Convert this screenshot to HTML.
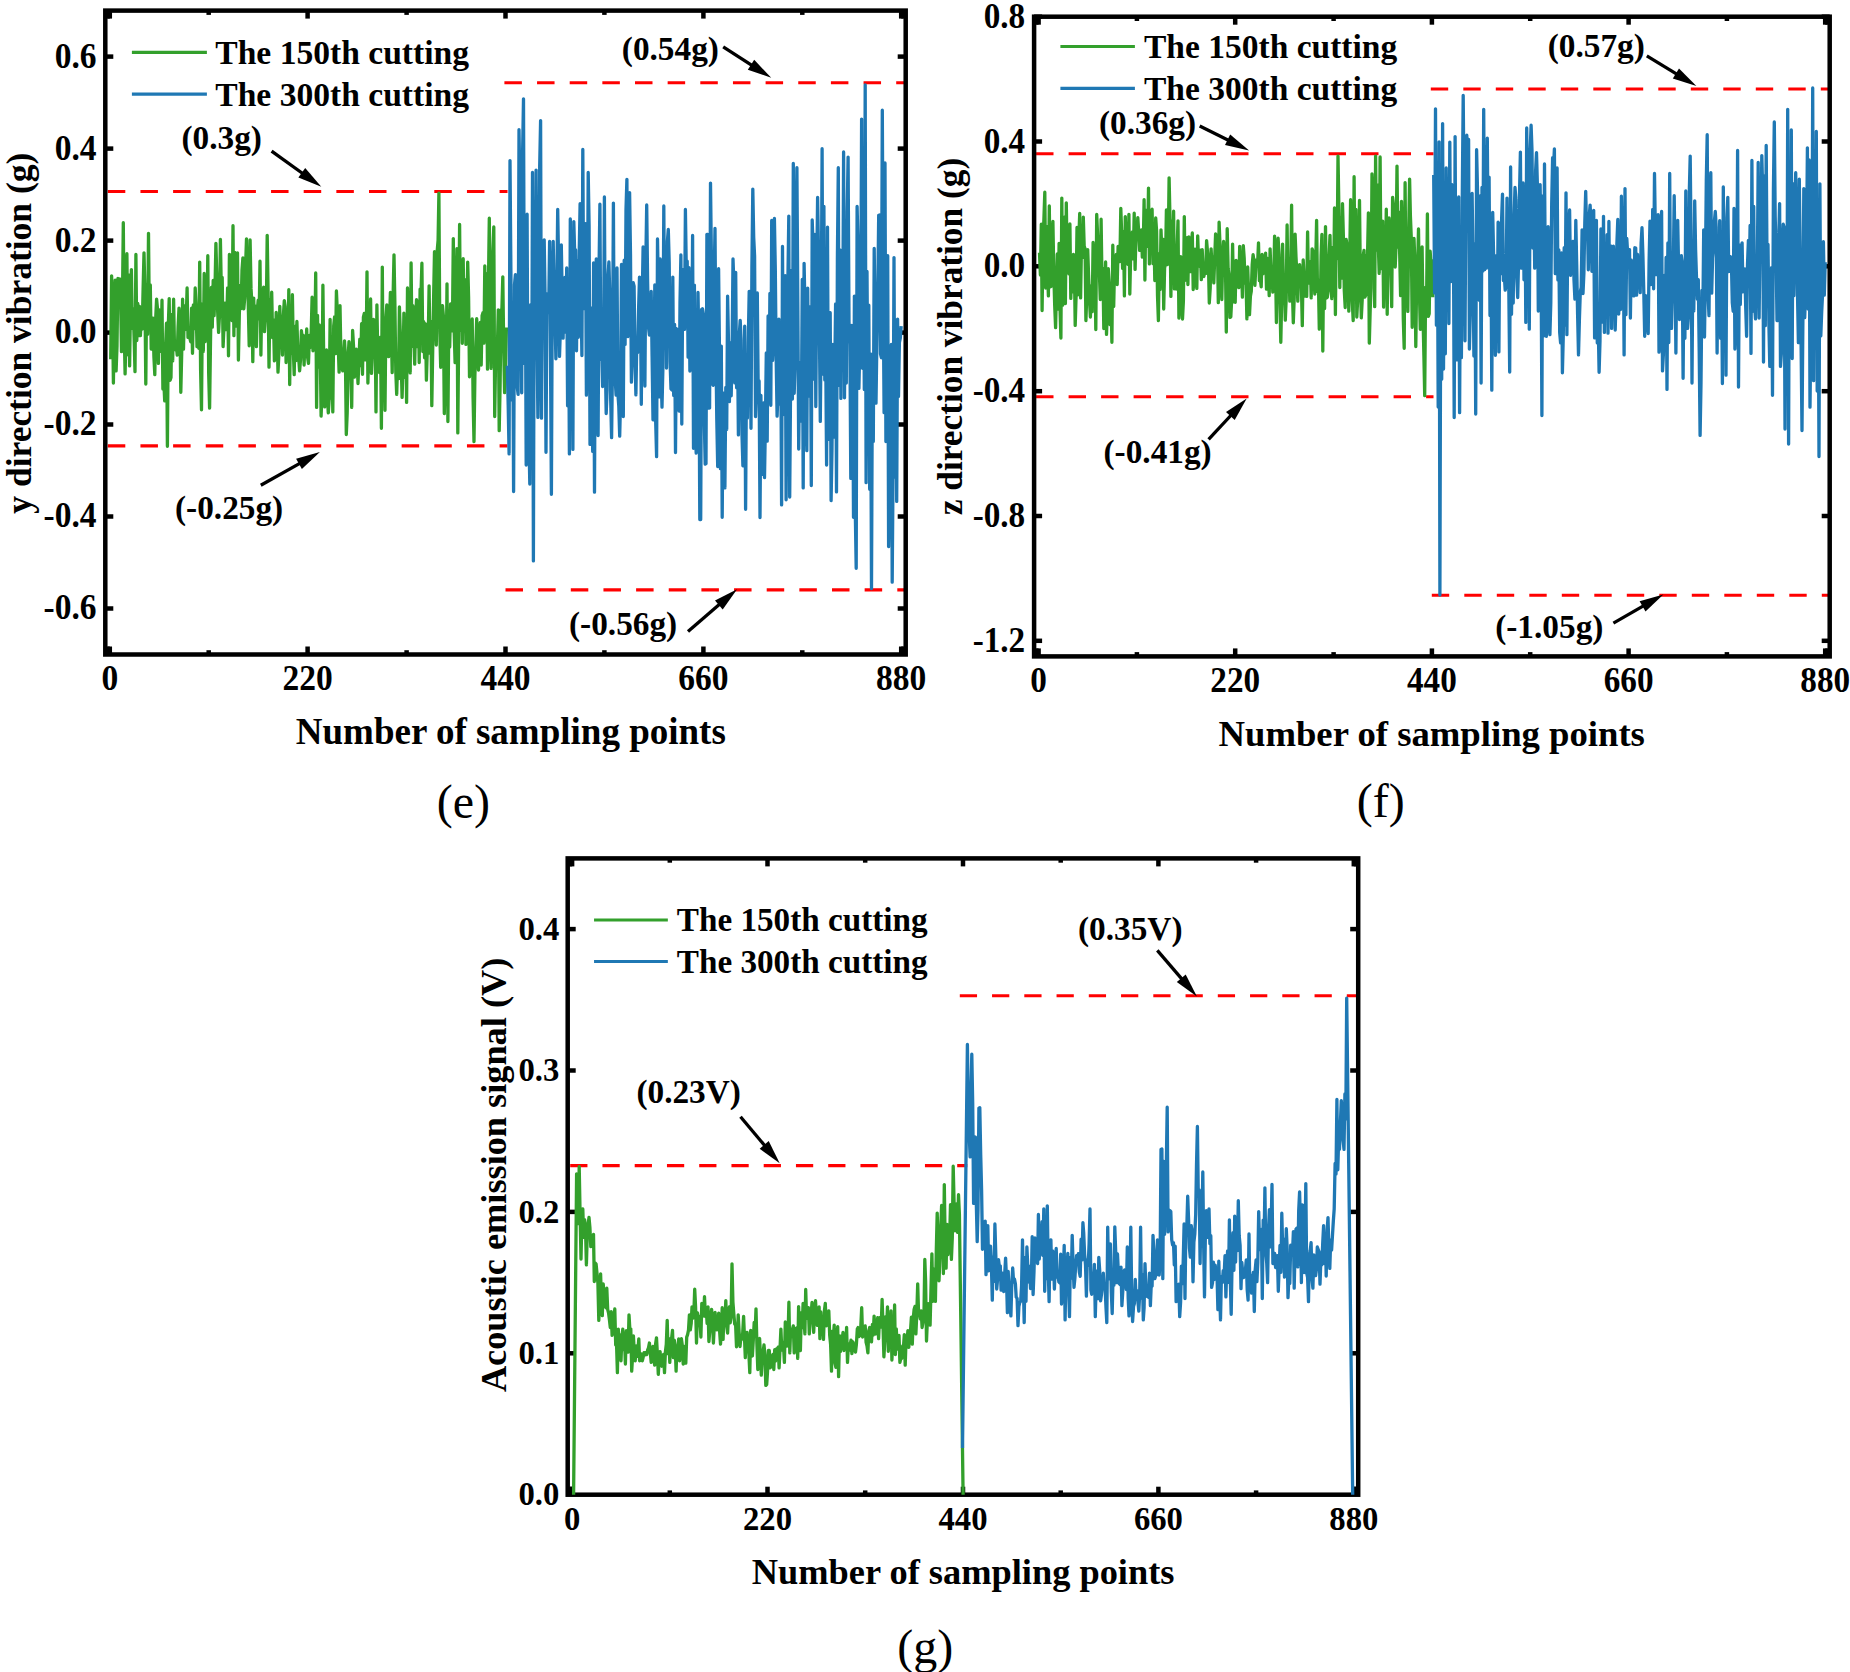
<!DOCTYPE html>
<html><head><meta charset="utf-8"><title>Vibration and acoustic emission signals</title>
<style>
html,body{margin:0;padding:0;background:#fff;}
svg{display:block;font-family:"Liberation Serif", "Times New Roman", serif;}
</style></head>
<body>
<svg width="1850" height="1672" viewBox="0 0 1850 1672">
<rect width="1850" height="1672" fill="#fff"/>
<g id="chart-e"><line x1="107.8" y1="191.5" x2="507.5" y2="191.5" stroke="#ff0000" stroke-width="3.1" stroke-dasharray="17.5 15.15"/><line x1="107.8" y1="445.9" x2="507.5" y2="445.9" stroke="#ff0000" stroke-width="3.1" stroke-dasharray="17.5 15.15"/><line x1="504.4" y1="82.8" x2="905.7" y2="82.8" stroke="#ff0000" stroke-width="3.1" stroke-dasharray="17.5 15.15"/><line x1="505.5" y1="589.9" x2="905.7" y2="589.9" stroke="#ff0000" stroke-width="3.1" stroke-dasharray="17.5 15.15"/><rect x="105.30" y="646.50" width="4.50" height="8.00" fill="#000"/><rect x="105.30" y="10.60" width="4.50" height="8.00" fill="#000"/><rect x="901.20" y="646.50" width="4.50" height="8.00" fill="#000"/><rect x="901.20" y="10.60" width="4.50" height="8.00" fill="#000"/><g stroke="#000" stroke-width="4.5" fill="none"><line x1="109.8" y1="654.5" x2="109.8" y2="646.5" /><line x1="109.8" y1="10.6" x2="109.8" y2="18.6" /><line x1="307.6" y1="654.5" x2="307.6" y2="646.5" /><line x1="307.6" y1="10.6" x2="307.6" y2="18.6" /><line x1="505.5" y1="654.5" x2="505.5" y2="646.5" /><line x1="505.5" y1="10.6" x2="505.5" y2="18.6" /><line x1="703.4" y1="654.5" x2="703.4" y2="646.5" /><line x1="703.4" y1="10.6" x2="703.4" y2="18.6" /><line x1="901.2" y1="654.5" x2="901.2" y2="646.5" /><line x1="901.2" y1="10.6" x2="901.2" y2="18.6" /><line x1="208.7" y1="654.5" x2="208.7" y2="650.2" /><line x1="208.7" y1="10.6" x2="208.7" y2="14.899999999999999" /><line x1="406.6" y1="654.5" x2="406.6" y2="650.2" /><line x1="406.6" y1="10.6" x2="406.6" y2="14.899999999999999" /><line x1="604.4" y1="654.5" x2="604.4" y2="650.2" /><line x1="604.4" y1="10.6" x2="604.4" y2="14.899999999999999" /><line x1="802.3" y1="654.5" x2="802.3" y2="650.2" /><line x1="802.3" y1="10.6" x2="802.3" y2="14.899999999999999" /><line x1="105.3" y1="608.5" x2="113.3" y2="608.5" /><line x1="905.7" y1="608.5" x2="897.7" y2="608.5" /><line x1="105.3" y1="516.5" x2="113.3" y2="516.5" /><line x1="905.7" y1="516.5" x2="897.7" y2="516.5" /><line x1="105.3" y1="424.5" x2="113.3" y2="424.5" /><line x1="905.7" y1="424.5" x2="897.7" y2="424.5" /><line x1="105.3" y1="332.6" x2="113.3" y2="332.6" /><line x1="905.7" y1="332.6" x2="897.7" y2="332.6" /><line x1="105.3" y1="240.6" x2="113.3" y2="240.6" /><line x1="905.7" y1="240.6" x2="897.7" y2="240.6" /><line x1="105.3" y1="148.6" x2="113.3" y2="148.6" /><line x1="905.7" y1="148.6" x2="897.7" y2="148.6" /><line x1="105.3" y1="56.6" x2="113.3" y2="56.6" /><line x1="905.7" y1="56.6" x2="897.7" y2="56.6" /><rect x="105.3" y="10.6" width="800.4" height="643.9"/></g><text transform="translate(109.8,689.8) scale(0.952,1)" font-size="35.175000000000004" font-weight="bold" text-anchor="middle" >0</text><text transform="translate(307.6,689.8) scale(0.952,1)" font-size="35.175000000000004" font-weight="bold" text-anchor="middle" >220</text><text transform="translate(505.5,689.8) scale(0.952,1)" font-size="35.175000000000004" font-weight="bold" text-anchor="middle" >440</text><text transform="translate(703.4,689.8) scale(0.952,1)" font-size="35.175000000000004" font-weight="bold" text-anchor="middle" >660</text><text transform="translate(901.2,689.8) scale(0.952,1)" font-size="35.175000000000004" font-weight="bold" text-anchor="middle" >880</text><text transform="translate(96.5,619.4) scale(0.952,1)" font-size="35.175000000000004" font-weight="bold" text-anchor="end" >-0.6</text><text transform="translate(96.5,527.4) scale(0.952,1)" font-size="35.175000000000004" font-weight="bold" text-anchor="end" >-0.4</text><text transform="translate(96.5,435.4) scale(0.952,1)" font-size="35.175000000000004" font-weight="bold" text-anchor="end" >-0.2</text><text transform="translate(96.5,343.4) scale(0.952,1)" font-size="35.175000000000004" font-weight="bold" text-anchor="end" >0.0</text><text transform="translate(96.5,251.5) scale(0.952,1)" font-size="35.175000000000004" font-weight="bold" text-anchor="end" >0.2</text><text transform="translate(96.5,159.5) scale(0.952,1)" font-size="35.175000000000004" font-weight="bold" text-anchor="end" >0.4</text><text transform="translate(96.5,67.5) scale(0.952,1)" font-size="35.175000000000004" font-weight="bold" text-anchor="end" >0.6</text><polyline points="110.7,359.2 111.6,275.8 112.5,301.9 113.4,383.0 114.3,314.6 115.2,280.1 116.1,370.9 117.0,346.2 117.9,278.4 118.8,298.3 119.7,278.8 120.6,296.8 121.5,351.7 122.4,305.8 123.3,222.7 124.2,330.1 125.1,373.9 126.0,330.1 126.9,253.7 127.8,354.8 128.7,274.8 129.6,365.9 130.5,303.4 131.4,269.6 132.3,328.4 133.2,308.7 134.1,337.1 135.0,371.7 135.9,254.5 136.8,340.5 137.7,303.3 138.6,335.7 139.5,306.4 140.4,335.7 141.3,317.9 142.2,329.0 143.1,289.0 144.0,252.8 144.9,291.0 145.8,384.0 146.7,284.6 147.6,334.3 148.5,233.3 149.4,325.4 150.3,285.0 151.2,349.1 152.1,325.7 153.0,318.2 153.9,356.3 154.8,374.6 155.7,318.6 156.6,299.2 157.5,308.6 158.4,363.4 159.3,309.8 160.2,332.0 161.1,351.4 162.0,300.2 162.9,389.0 163.8,380.8 164.7,400.9 165.6,346.2 166.5,323.2 167.4,446.3 168.3,326.0 169.2,298.6 170.1,380.3 171.0,377.6 171.9,314.4 172.7,360.9 173.6,299.2 174.5,347.6 175.4,349.7 176.3,344.8 177.2,355.0 178.1,326.8 179.0,308.1 179.9,323.9 180.8,392.3 181.7,353.6 182.6,299.2 183.5,349.2 184.4,306.0 185.3,329.7 186.2,320.3 187.1,288.0 188.0,337.4 188.9,336.0 189.8,338.2 190.7,341.7 191.6,308.1 192.5,353.3 193.4,304.8 194.3,328.6 195.2,288.0 196.1,306.5 197.0,346.6 197.9,341.0 198.8,348.4 199.7,262.1 200.6,370.1 201.5,409.8 202.4,303.8 203.3,351.4 204.2,273.4 205.1,341.6 206.0,315.7 206.9,324.6 207.8,255.7 208.7,374.2 209.6,408.1 210.5,342.1 211.4,287.3 212.3,327.2 213.2,280.5 214.1,315.6 215.0,289.1 215.9,243.3 216.8,277.6 217.7,312.2 218.6,332.4 219.5,315.3 220.4,239.4 221.3,289.2 222.2,277.4 223.1,346.6 224.0,326.7 224.9,303.1 225.8,329.7 226.7,323.0 227.6,287.9 228.5,355.8 229.4,254.5 230.3,292.7 231.2,254.9 232.1,320.7 233.0,225.7 233.9,335.7 234.8,252.4 235.7,280.1 236.6,326.0 237.5,252.8 238.4,360.0 239.3,315.2 240.2,285.5 241.1,308.5 242.0,270.0 242.9,257.9 243.8,308.9 244.7,298.0 245.6,265.7 246.5,238.9 247.4,270.7 248.3,306.2 249.2,345.8 250.1,240.0 251.0,288.4 251.9,302.8 252.8,361.7 253.7,298.1 254.6,334.6 255.5,306.2 256.4,346.6 257.3,310.1 258.2,300.1 259.1,318.9 260.0,261.2 260.9,355.0 261.8,295.7 262.7,330.4 263.6,287.2 264.5,331.6 265.4,317.1 266.3,311.6 267.2,235.3 268.1,292.5 269.0,367.2 269.9,299.7 270.8,335.8 271.7,292.2 272.6,337.6 273.5,320.0 274.4,360.9 275.3,352.7 276.2,312.3 277.1,331.6 278.0,372.2 278.9,353.4 279.8,306.4 280.7,335.6 281.6,324.3 282.5,355.0 283.4,315.3 284.3,300.6 285.2,306.4 286.1,362.5 287.0,311.8 287.9,357.4 288.8,289.7 289.7,384.6 290.6,314.0 291.5,353.3 292.4,294.7 293.3,349.6 294.2,374.6 295.1,326.5 296.0,360.5 296.9,321.5 297.8,350.8 298.7,358.0 299.6,370.9 300.5,360.1 301.4,330.7 302.3,338.9 303.2,335.4 304.1,365.0 305.0,337.0 305.8,351.4 306.7,329.0 307.6,357.3 308.5,363.4 309.4,335.3 310.3,347.5 311.2,332.0 312.1,297.2 313.0,350.8 313.9,319.1 314.8,339.9 315.7,272.9 316.6,407.4 317.5,315.4 318.4,367.0 319.3,324.9 320.2,345.5 321.1,416.1 322.0,391.9 322.9,285.2 323.8,368.2 324.7,406.9 325.6,394.4 326.5,350.0 327.4,397.2 328.3,412.8 329.2,399.1 330.1,319.3 331.0,398.2 331.9,351.1 332.8,411.9 333.7,325.9 334.6,317.0 335.5,353.7 336.4,290.9 337.3,311.1 338.2,343.4 339.1,372.2 340.0,305.6 340.9,355.2 341.8,367.6 342.7,370.8 343.6,355.9 344.5,340.8 345.4,356.7 346.3,434.5 347.2,413.0 348.1,357.8 349.0,341.6 349.9,350.9 350.8,368.4 351.7,407.4 352.6,330.4 353.5,345.6 354.4,377.2 355.3,361.2 356.2,349.1 357.1,359.2 358.0,383.5 358.9,360.4 359.8,339.1 360.7,365.5 361.6,323.7 362.5,374.3 363.4,317.1 364.3,313.4 365.2,359.9 366.1,354.2 367.0,271.8 367.9,383.0 368.8,347.3 369.7,364.9 370.6,298.9 371.5,373.4 372.4,353.0 373.3,319.3 374.2,320.6 375.1,320.8 376.0,411.9 376.9,304.8 377.8,357.6 378.7,367.2 379.6,372.7 380.5,337.2 381.4,428.3 382.3,267.1 383.2,387.2 384.1,353.3 385.0,410.3 385.9,318.2 386.8,304.8 387.7,329.9 388.6,356.7 389.5,322.2 390.4,292.5 391.3,328.5 392.2,372.6 393.1,296.0 394.0,254.9 394.9,304.5 395.8,371.7 396.7,394.4 397.6,361.3 398.5,378.7 399.4,306.9 400.3,333.1 401.2,364.0 402.1,397.4 403.0,364.9 403.9,313.1 404.8,377.3 405.7,324.1 406.6,402.4 407.5,288.0 408.4,348.6 409.3,336.7 410.2,372.9 411.1,262.9 412.0,346.4 412.9,305.7 413.8,338.0 414.7,364.2 415.6,322.3 416.5,299.7 417.4,346.7 418.3,301.5 419.2,362.5 420.1,289.1 421.0,293.7 421.9,263.2 422.8,351.5 423.7,321.7 424.6,357.8 425.5,324.0 426.4,380.1 427.3,349.4 428.2,341.6 429.1,285.8 430.0,353.2 430.9,321.6 431.8,405.7 432.7,350.7 433.6,298.7 434.5,251.7 435.4,306.9 436.3,345.0 437.2,250.8 438.1,240.1 438.9,193.1 439.8,331.7 440.7,367.3 441.6,313.9 442.5,305.6 443.4,316.0 444.3,413.6 445.2,372.2 446.1,374.5 447.0,283.8 447.9,421.5 448.8,324.3 449.7,347.0 450.6,303.9 451.5,328.8 452.4,330.7 453.3,238.6 454.2,331.8 455.1,362.6 456.0,309.5 456.9,248.7 457.8,432.9 458.7,333.8 459.6,224.4 460.5,330.4 461.4,268.5 462.3,343.3 463.2,258.7 464.1,329.5 465.0,279.6 465.9,344.4 466.8,319.2 467.7,262.1 468.6,297.3 469.5,376.8 470.4,338.1 471.3,366.6 472.2,319.0 473.1,398.6 474.0,441.6 474.9,375.5 475.8,347.7 476.7,318.7 477.6,339.0 478.5,370.0 479.4,343.6 480.3,322.3 481.2,365.0 482.1,315.8 483.0,312.6 483.9,343.2 484.8,265.9 485.7,335.1 486.6,273.9 487.5,369.2 488.4,287.6 489.3,218.2 490.2,332.9 491.1,368.4 492.0,257.1 492.9,250.5 493.8,226.9 494.7,416.5 495.6,359.4 496.5,367.7 497.4,346.7 498.3,309.8 499.2,430.7 500.1,385.5 501.0,310.2 501.9,309.2 502.8,276.8 503.7,347.3 504.6,392.7 505.5,369.9 506.4,327.4" fill="none" stroke="#33a02c" stroke-width="3.3" stroke-linejoin="round" stroke-linecap="butt"/><polyline points="507.3,365.7 508.2,405.2 509.1,453.9 510.0,160.6 510.9,271.1 511.8,400.1 512.7,311.0 513.6,491.6 514.5,285.0 515.4,274.7 516.3,277.9 517.2,386.6 518.1,394.4 519.0,129.7 519.9,188.1 520.8,293.5 521.7,392.8 522.6,153.1 523.5,98.8 524.4,363.4 525.3,267.2 526.2,465.0 527.1,214.2 528.0,431.6 528.9,436.3 529.8,484.0 530.7,304.7 531.6,431.7 532.5,172.5 533.4,560.9 534.3,224.3 535.2,294.2 536.1,170.1 537.0,336.6 537.9,417.4 538.8,351.2 539.7,165.9 540.6,120.6 541.5,418.2 542.4,285.4 543.3,250.4 544.2,239.8 545.1,299.5 546.0,452.3 546.9,294.0 547.8,312.7 548.7,311.9 549.6,241.4 550.5,358.3 551.4,494.3 552.3,285.7 553.2,241.4 554.1,294.8 555.0,317.4 555.9,358.8 556.8,288.8 557.7,209.4 558.6,262.5 559.5,356.4 560.4,329.0 561.3,244.9 562.2,296.8 563.1,338.2 564.0,289.6 564.9,277.5 565.8,332.2 566.7,268.0 567.6,405.8 568.5,291.0 569.4,453.9 570.3,218.9 571.2,286.7 572.1,286.9 572.9,449.4 573.8,221.6 574.7,253.7 575.6,249.9 576.5,350.8 577.4,260.7 578.3,337.3 579.2,252.9 580.1,203.7 581.0,294.1 581.9,355.6 582.8,149.5 583.7,308.6 584.6,241.0 585.5,223.7 586.4,395.2 587.3,349.8 588.2,172.5 589.1,225.2 590.0,444.4 590.9,395.8 591.8,308.0 592.7,451.4 593.6,262.8 594.5,492.2 595.4,291.6 596.3,258.9 597.2,305.5 598.1,435.6 599.0,272.2 599.9,204.2 600.8,359.5 601.7,344.5 602.6,386.5 603.5,368.1 604.4,197.0 605.3,362.1 606.2,413.5 607.1,389.7 608.0,276.3 608.9,262.0 609.8,295.7 610.7,400.4 611.6,437.7 612.5,362.7 613.4,203.1 614.3,376.5 615.2,379.4 616.1,395.2 617.0,268.0 617.9,393.7 618.8,406.5 619.7,436.1 620.6,397.1 621.5,264.4 622.4,275.8 623.3,416.6 624.2,260.2 625.1,344.4 626.0,209.5 626.9,179.3 627.8,336.6 628.7,291.8 629.6,192.6 630.5,254.2 631.4,382.2 632.3,354.3 633.2,282.7 634.1,286.1 635.0,357.5 635.9,394.9 636.8,341.8 637.7,352.4 638.6,308.7 639.5,277.1 640.4,297.6 641.3,404.3 642.2,299.8 643.1,247.0 644.0,325.8 644.9,386.0 645.8,263.7 646.7,205.0 647.6,280.6 648.5,327.2 649.4,335.0 650.3,334.6 651.2,291.3 652.1,356.4 653.0,419.8 653.9,373.3 654.8,285.0 655.7,422.3 656.6,456.7 657.5,239.0 658.4,290.2 659.3,396.9 660.2,258.9 661.1,373.0 662.0,407.1 662.9,367.8 663.8,205.9 664.7,337.9 665.6,277.4 666.5,368.0 667.4,241.3 668.3,229.5 669.2,262.3 670.1,362.4 671.0,388.9 671.9,389.9 672.8,277.1 673.7,395.6 674.6,324.5 675.5,452.6 676.4,328.6 677.3,394.0 678.2,329.3 679.1,411.1 680.0,302.4 680.9,254.9 681.8,424.1 682.7,280.4 683.6,269.5 684.5,329.4 685.4,209.4 686.3,270.5 687.2,261.2 688.1,357.2 689.0,267.6 689.9,371.1 690.8,294.6 691.7,364.7 692.6,235.4 693.5,448.3 694.4,285.1 695.3,429.6 696.2,453.1 697.1,391.9 698.0,292.5 698.9,347.8 699.8,519.6 700.7,519.6 701.6,309.6 702.5,308.8 703.4,314.3 704.3,420.2 705.2,464.2 706.0,463.7 706.9,234.3 707.8,234.3 708.7,408.2 709.6,407.9 710.5,183.1 711.4,258.2 712.3,383.7 713.2,385.3 714.1,281.7 715.0,228.4 715.9,349.1 716.8,420.3 717.7,466.5 718.6,268.7 719.5,352.4 720.4,468.7 721.3,346.1 722.2,517.3 723.1,393.0 724.0,461.7 724.9,487.9 725.8,387.5 726.7,429.4 727.6,296.1 728.5,341.9 729.4,401.6 730.3,343.0 731.2,395.8 732.1,350.8 733.0,258.9 733.9,284.0 734.8,382.9 735.7,272.3 736.6,387.8 737.5,339.6 738.4,434.9 739.3,334.4 740.2,320.3 741.1,339.6 742.0,434.7 742.9,465.8 743.8,440.4 744.7,326.2 745.6,509.3 746.5,369.7 747.4,418.0 748.3,340.3 749.2,291.3 750.1,296.6 751.0,428.3 751.9,266.8 752.8,189.1 753.7,237.4 754.6,256.2 755.5,416.6 756.4,389.5 757.3,292.9 758.2,389.0 759.1,381.0 760.0,517.6 760.9,395.3 761.8,474.3 762.7,434.0 763.6,402.9 764.5,477.6 765.4,423.4 766.3,353.0 767.2,441.2 768.1,315.9 769.0,400.7 769.9,293.5 770.8,405.3 771.7,220.5 772.6,360.4 773.5,341.3 774.4,218.4 775.3,269.3 776.2,360.0 777.1,416.1 778.0,391.8 778.9,319.1 779.8,404.0 780.7,337.9 781.6,504.9 782.5,246.5 783.4,414.5 784.3,311.6 785.2,275.6 786.1,499.8 787.0,395.1 787.9,280.6 788.8,216.1 789.7,497.0 790.6,383.0 791.5,270.3 792.4,399.0 793.3,163.4 794.2,393.3 795.1,363.1 796.0,221.7 796.9,167.7 797.8,301.9 798.7,449.1 799.6,362.3 800.5,421.0 801.4,405.2 802.3,279.5 803.2,487.9 804.1,263.3 805.0,310.3 805.9,408.3 806.8,450.7 807.7,288.2 808.6,396.2 809.5,330.8 810.4,306.6 811.3,485.6 812.2,220.0 813.1,248.6 814.0,379.0 814.9,234.4 815.8,406.6 816.7,273.9 817.6,197.4 818.5,250.9 819.4,331.0 820.3,421.4 821.2,325.4 822.1,148.7 823.0,374.2 823.9,206.3 824.8,380.0 825.7,352.6 826.6,465.0 827.5,227.2 828.4,439.3 829.3,321.4 830.2,312.7 831.1,500.6 832.0,448.5 832.9,344.5 833.8,437.2 834.7,374.9 835.6,304.0 836.5,491.9 837.4,257.3 838.3,167.7 839.1,385.3 840.0,249.9 840.9,398.4 841.8,262.8 842.7,333.9 843.6,151.9 844.5,397.8 845.4,264.7 846.3,383.0 847.2,212.2 848.1,157.1 849.0,322.1 849.9,344.5 850.8,478.4 851.7,325.4 852.6,339.0 853.5,517.3 854.4,296.1 855.3,512.2 856.2,568.3 857.1,206.5 858.0,243.6 858.9,388.4 859.8,345.5 860.7,331.1 861.6,119.1 862.5,368.3 863.4,211.5 864.3,389.6 865.2,84.8 866.1,482.7 867.0,271.4 867.9,408.9 868.8,305.2 869.7,489.3 870.6,354.0 871.5,588.6 872.4,363.3 873.3,441.4 874.2,248.5 875.1,329.5 876.0,403.2 876.9,339.6 877.8,291.1 878.7,215.3 879.6,215.0 880.5,353.8 881.4,357.7 882.3,110.2 883.2,290.6 884.1,412.7 885.0,163.0 885.9,441.6 886.8,277.9 887.7,255.7 888.6,546.6 889.5,491.9 890.4,385.9 891.3,344.5 892.2,582.2 893.1,464.1 894.0,257.6 894.9,477.2 895.8,320.0 896.7,501.4 897.6,319.1 898.5,396.4 899.4,342.5 900.3,338.2 901.2,326.2" fill="none" stroke="#1f78b4" stroke-width="3.3" stroke-linejoin="round" stroke-linecap="butt"/><line x1="131.9" y1="52.4" x2="206.9" y2="52.4" stroke="#33a02c" stroke-width="3.2"/><line x1="131.9" y1="94.2" x2="206.9" y2="94.2" stroke="#1f78b4" stroke-width="3.2"/><text x="215.3" y="63.9" font-size="33.6" font-weight="bold" text-anchor="start" >The 150th cutting</text><text x="215.3" y="106.0" font-size="33.6" font-weight="bold" text-anchor="start" >The 300th cutting</text><text x="181.5" y="148.6" font-size="33.3" font-weight="bold" text-anchor="start" >(0.3g)</text><line x1="271.6" y1="151.1" x2="303.4" y2="174.0" stroke="#000" stroke-width="3.3"/><polygon points="321.3,186.8 298.4,177.6 305.2,168.0" fill="#000"/><text x="621.8" y="59.7" font-size="33.3" font-weight="bold" text-anchor="start" >(0.54g)</text><line x1="723.2" y1="46.8" x2="752.7" y2="65.9" stroke="#000" stroke-width="3.3"/><polygon points="771.2,77.8 747.8,69.7 754.2,59.8" fill="#000"/><text x="175.0" y="519.2" font-size="33.3" font-weight="bold" text-anchor="start" >(-0.25g)</text><line x1="260.8" y1="485.3" x2="300.7" y2="462.9" stroke="#000" stroke-width="3.3"/><polygon points="319.9,452.1 301.9,469.0 296.1,458.7" fill="#000"/><text x="569.0" y="635.4" font-size="33.3" font-weight="bold" text-anchor="start" >(-0.56g)</text><line x1="688.0" y1="631.4" x2="720.4" y2="603.6" stroke="#000" stroke-width="3.3"/><polygon points="737.1,589.3 722.7,609.4 715.0,600.4" fill="#000"/><text x="510.8" y="744.3" font-size="37.0" font-weight="bold" text-anchor="middle" >Number of sampling points</text><text transform="translate(31.2,333.2) rotate(-90) scale(0.967,1)" font-size="36.7" font-weight="bold" text-anchor="middle">y direction vibration (g)</text><text x="463.3" y="817.5" font-size="48" font-weight="normal" text-anchor="middle" >(e)</text></g>
<g id="chart-f"><line x1="1036.1" y1="153.7" x2="1433.5" y2="153.7" stroke="#ff0000" stroke-width="3.1" stroke-dasharray="17.4 15.1"/><line x1="1036.1" y1="396.8" x2="1433.5" y2="396.8" stroke="#ff0000" stroke-width="3.1" stroke-dasharray="17.4 15.1"/><line x1="1430.8" y1="89.0" x2="1829.7" y2="89.0" stroke="#ff0000" stroke-width="3.1" stroke-dasharray="17.4 15.1"/><line x1="1431.8" y1="595.2" x2="1829.7" y2="595.2" stroke="#ff0000" stroke-width="3.1" stroke-dasharray="17.4 15.1"/><rect x="1034.10" y="648.40" width="4.47" height="8.00" fill="#000"/><rect x="1034.10" y="16.70" width="4.47" height="8.00" fill="#000"/><rect x="1825.23" y="648.40" width="4.47" height="8.00" fill="#000"/><rect x="1825.23" y="16.70" width="4.47" height="8.00" fill="#000"/><g stroke="#000" stroke-width="4.5" fill="none"><line x1="1038.6" y1="656.4" x2="1038.6" y2="648.4" /><line x1="1038.6" y1="16.7" x2="1038.6" y2="24.7" /><line x1="1235.2" y1="656.4" x2="1235.2" y2="648.4" /><line x1="1235.2" y1="16.7" x2="1235.2" y2="24.7" /><line x1="1431.9" y1="656.4" x2="1431.9" y2="648.4" /><line x1="1431.9" y1="16.7" x2="1431.9" y2="24.7" /><line x1="1628.6" y1="656.4" x2="1628.6" y2="648.4" /><line x1="1628.6" y1="16.7" x2="1628.6" y2="24.7" /><line x1="1825.2" y1="656.4" x2="1825.2" y2="648.4" /><line x1="1825.2" y1="16.7" x2="1825.2" y2="24.7" /><line x1="1136.9" y1="656.4" x2="1136.9" y2="652.1" /><line x1="1136.9" y1="16.7" x2="1136.9" y2="21.0" /><line x1="1333.6" y1="656.4" x2="1333.6" y2="652.1" /><line x1="1333.6" y1="16.7" x2="1333.6" y2="21.0" /><line x1="1530.2" y1="656.4" x2="1530.2" y2="652.1" /><line x1="1530.2" y1="16.7" x2="1530.2" y2="21.0" /><line x1="1726.9" y1="656.4" x2="1726.9" y2="652.1" /><line x1="1726.9" y1="16.7" x2="1726.9" y2="21.0" /><line x1="1034.1" y1="640.8" x2="1042.1" y2="640.8" /><line x1="1829.7" y1="640.8" x2="1821.7" y2="640.8" /><line x1="1034.1" y1="516.0" x2="1042.1" y2="516.0" /><line x1="1829.7" y1="516.0" x2="1821.7" y2="516.0" /><line x1="1034.1" y1="391.2" x2="1042.1" y2="391.2" /><line x1="1829.7" y1="391.2" x2="1821.7" y2="391.2" /><line x1="1034.1" y1="266.3" x2="1042.1" y2="266.3" /><line x1="1829.7" y1="266.3" x2="1821.7" y2="266.3" /><line x1="1034.1" y1="141.5" x2="1042.1" y2="141.5" /><line x1="1829.7" y1="141.5" x2="1821.7" y2="141.5" /><line x1="1034.1" y1="16.7" x2="1042.1" y2="16.7" /><line x1="1829.7" y1="16.7" x2="1821.7" y2="16.7" /><rect x="1034.1" y="16.7" width="795.6" height="639.7"/></g><text transform="translate(1038.6,691.7) scale(0.952,1)" font-size="34.86000000000001" font-weight="bold" text-anchor="middle" >0</text><text transform="translate(1235.2,691.7) scale(0.952,1)" font-size="34.86000000000001" font-weight="bold" text-anchor="middle" >220</text><text transform="translate(1431.9,691.7) scale(0.952,1)" font-size="34.86000000000001" font-weight="bold" text-anchor="middle" >440</text><text transform="translate(1628.6,691.7) scale(0.952,1)" font-size="34.86000000000001" font-weight="bold" text-anchor="middle" >660</text><text transform="translate(1825.2,691.7) scale(0.952,1)" font-size="34.86000000000001" font-weight="bold" text-anchor="middle" >880</text><text transform="translate(1025.2,651.9) scale(0.952,1)" font-size="34.86000000000001" font-weight="bold" text-anchor="end" >-1.2</text><text transform="translate(1025.2,527.1) scale(0.952,1)" font-size="34.86000000000001" font-weight="bold" text-anchor="end" >-0.8</text><text transform="translate(1025.2,402.3) scale(0.952,1)" font-size="34.86000000000001" font-weight="bold" text-anchor="end" >-0.4</text><text transform="translate(1025.2,277.4) scale(0.952,1)" font-size="34.86000000000001" font-weight="bold" text-anchor="end" >0.0</text><text transform="translate(1025.2,152.6) scale(0.952,1)" font-size="34.86000000000001" font-weight="bold" text-anchor="end" >0.4</text><text transform="translate(1025.2,27.8) scale(0.952,1)" font-size="34.86000000000001" font-weight="bold" text-anchor="end" >0.8</text><polyline points="1039.5,252.8 1040.4,275.0 1041.3,224.2 1042.1,310.6 1043.0,242.7 1043.9,219.2 1044.8,192.2 1045.7,288.1 1046.6,226.5 1047.5,268.3 1048.4,295.9 1049.3,206.0 1050.2,286.9 1051.1,286.3 1052.0,242.1 1052.9,221.4 1053.8,273.0 1054.7,305.5 1055.6,327.6 1056.4,289.9 1057.3,254.0 1058.2,309.2 1059.1,243.3 1060.0,307.5 1060.9,338.0 1061.8,198.1 1062.7,305.2 1063.6,280.2 1064.5,217.1 1065.4,303.5 1066.3,202.8 1067.2,266.2 1068.1,242.0 1069.0,273.9 1069.9,223.9 1070.8,298.4 1071.6,259.7 1072.5,291.9 1073.4,254.4 1074.3,260.1 1075.2,325.4 1076.1,295.6 1077.0,227.4 1077.9,294.8 1078.8,239.7 1079.7,213.5 1080.6,297.9 1081.5,242.5 1082.4,257.4 1083.3,217.1 1084.2,246.2 1085.1,248.8 1085.9,320.6 1086.8,294.1 1087.7,249.6 1088.6,275.6 1089.5,300.4 1090.4,317.0 1091.3,285.8 1092.2,311.7 1093.1,242.5 1094.0,288.2 1094.9,245.3 1095.8,329.6 1096.7,214.4 1097.6,235.1 1098.5,245.7 1099.4,273.7 1100.3,299.5 1101.1,219.2 1102.0,281.8 1102.9,268.4 1103.8,328.5 1104.7,295.4 1105.6,262.0 1106.5,334.4 1107.4,308.3 1108.3,268.6 1109.2,282.9 1110.1,324.6 1111.0,293.8 1111.9,342.3 1112.8,245.2 1113.7,306.4 1114.6,263.6 1115.4,280.1 1116.3,254.4 1117.2,284.5 1118.1,246.4 1119.0,260.7 1119.9,261.5 1120.8,208.4 1121.7,234.4 1122.6,268.4 1123.5,231.7 1124.4,295.9 1125.3,216.6 1126.2,256.7 1127.1,253.2 1128.0,264.3 1128.9,214.3 1129.8,294.0 1130.6,257.6 1131.5,257.9 1132.4,231.8 1133.3,258.9 1134.2,213.2 1135.1,269.4 1136.0,233.5 1136.9,236.9 1137.8,217.6 1138.7,232.0 1139.6,250.4 1140.5,246.1 1141.4,229.8 1142.3,257.1 1143.2,251.3 1144.1,199.7 1144.9,280.0 1145.8,211.6 1146.7,210.3 1147.6,246.4 1148.5,188.1 1149.4,263.9 1150.3,210.3 1151.2,245.3 1152.1,209.2 1153.0,263.7 1153.9,233.5 1154.8,280.5 1155.7,217.9 1156.6,231.2 1157.5,295.4 1158.4,320.6 1159.3,253.7 1160.1,289.5 1161.0,229.8 1161.9,252.5 1162.8,239.1 1163.7,309.0 1164.6,267.9 1165.5,263.9 1166.4,210.0 1167.3,264.7 1168.2,246.6 1169.1,177.8 1170.0,219.2 1170.9,296.4 1171.8,221.3 1172.7,264.2 1173.6,211.2 1174.4,288.9 1175.3,280.6 1176.2,289.0 1177.1,248.8 1178.0,220.8 1178.9,318.1 1179.8,293.0 1180.7,256.7 1181.6,300.1 1182.5,319.0 1183.4,301.0 1184.3,216.6 1185.2,280.3 1186.1,238.3 1187.0,237.7 1187.9,284.5 1188.8,236.9 1189.6,252.5 1190.5,271.6 1191.4,245.6 1192.3,233.0 1193.2,289.5 1194.1,275.4 1195.0,249.1 1195.9,274.1 1196.8,288.4 1197.7,235.8 1198.6,262.1 1199.5,266.2 1200.4,250.1 1201.3,279.7 1202.2,249.6 1203.1,271.1 1203.9,276.5 1204.8,263.5 1205.7,273.5 1206.6,240.6 1207.5,251.7 1208.4,261.6 1209.3,303.0 1210.2,288.5 1211.1,248.8 1212.0,267.0 1212.9,256.7 1213.8,282.9 1214.7,258.8 1215.6,233.8 1216.5,242.0 1217.4,242.9 1218.3,302.7 1219.1,222.2 1220.0,244.4 1220.9,281.8 1221.8,299.5 1222.7,258.3 1223.6,241.4 1224.5,248.7 1225.4,258.9 1226.3,332.0 1227.2,228.7 1228.1,268.3 1229.0,275.2 1229.9,317.4 1230.8,317.0 1231.7,298.8 1232.6,244.1 1233.4,291.9 1234.3,301.9 1235.2,302.2 1236.1,260.4 1237.0,274.0 1237.9,262.5 1238.8,287.6 1239.7,246.4 1240.6,268.7 1241.5,265.0 1242.4,297.2 1243.3,245.6 1244.2,258.2 1245.1,283.2 1246.0,279.1 1246.9,318.9 1247.7,267.0 1248.6,292.7 1249.5,314.6 1250.4,296.3 1251.3,291.1 1252.2,264.7 1253.1,254.7 1254.0,261.1 1254.9,285.3 1255.8,266.8 1256.7,259.9 1257.6,263.7 1258.5,242.9 1259.4,280.7 1260.3,278.8 1261.2,286.9 1262.1,254.4 1262.9,273.8 1263.8,272.4 1264.7,264.1 1265.6,253.1 1266.5,289.2 1267.4,258.5 1268.3,267.2 1269.2,295.6 1270.1,248.8 1271.0,274.0 1271.9,266.7 1272.8,292.2 1273.7,280.9 1274.6,236.1 1275.5,261.7 1276.4,322.5 1277.2,267.3 1278.1,238.2 1279.0,254.0 1279.9,299.4 1280.8,342.3 1281.7,298.4 1282.6,244.1 1283.5,288.8 1284.4,285.0 1285.3,320.1 1286.2,298.0 1287.1,225.0 1288.0,291.5 1288.9,260.2 1289.8,301.1 1290.7,268.9 1291.6,205.2 1292.4,290.3 1293.3,322.8 1294.2,298.2 1295.1,234.1 1296.0,257.1 1296.9,274.5 1297.8,301.1 1298.7,266.2 1299.6,264.7 1300.5,274.4 1301.4,286.0 1302.3,325.7 1303.2,259.9 1304.1,278.4 1305.0,296.2 1305.9,275.2 1306.7,296.4 1307.6,231.9 1308.5,283.2 1309.4,280.7 1310.3,261.7 1311.2,297.9 1312.1,248.8 1313.0,251.3 1313.9,271.0 1314.8,294.0 1315.7,264.8 1316.6,220.3 1317.5,291.6 1318.4,280.1 1319.3,329.2 1320.2,313.8 1321.1,255.5 1321.9,234.5 1322.8,351.0 1323.7,252.7 1324.6,308.6 1325.5,226.6 1326.4,298.0 1327.3,297.2 1328.2,289.0 1329.1,256.1 1330.0,235.3 1330.9,285.7 1331.8,298.7 1332.7,247.5 1333.6,295.3 1334.5,207.9 1335.4,314.6 1336.2,232.7 1337.1,258.8 1338.0,156.1 1338.9,209.3 1339.8,287.6 1340.7,218.2 1341.6,278.2 1342.5,203.6 1343.4,237.2 1344.3,290.6 1345.2,307.5 1346.1,239.3 1347.0,245.0 1347.9,269.1 1348.8,311.1 1349.7,259.1 1350.6,199.7 1351.4,260.2 1352.3,301.6 1353.2,320.6 1354.1,176.7 1355.0,288.2 1355.9,209.5 1356.8,317.0 1357.7,299.1 1358.6,263.1 1359.5,200.5 1360.4,283.2 1361.3,317.8 1362.2,299.9 1363.1,256.2 1364.0,250.4 1364.9,297.2 1365.7,295.4 1366.6,255.2 1367.5,257.2 1368.4,212.8 1369.3,343.1 1370.2,309.5 1371.1,287.9 1372.0,173.8 1372.9,194.3 1373.8,201.0 1374.7,306.7 1375.6,156.1 1376.5,250.2 1377.4,185.0 1378.3,244.7 1379.2,273.4 1380.1,156.9 1380.9,258.1 1381.8,268.6 1382.7,221.1 1383.6,307.1 1384.5,261.0 1385.4,271.7 1386.3,209.2 1387.2,314.3 1388.1,242.3 1389.0,217.9 1389.9,234.1 1390.8,265.9 1391.7,306.7 1392.6,197.3 1393.5,205.4 1394.4,246.8 1395.2,267.0 1396.1,244.7 1397.0,166.1 1397.9,247.0 1398.8,212.2 1399.7,254.5 1400.6,295.6 1401.5,201.3 1402.4,235.4 1403.3,319.3 1404.2,348.3 1405.1,182.7 1406.0,295.6 1406.9,254.8 1407.8,311.4 1408.7,230.9 1409.6,179.1 1410.4,215.9 1411.3,238.6 1412.2,327.3 1413.1,270.2 1414.0,238.5 1414.9,262.1 1415.8,346.6 1416.7,275.3 1417.6,270.5 1418.5,229.0 1419.4,292.1 1420.3,329.3 1421.2,317.2 1422.1,246.8 1423.0,314.8 1423.9,355.6 1424.7,395.7 1425.6,287.4 1426.5,311.7 1427.4,213.9 1428.3,316.4 1429.2,313.8 1430.1,251.1 1431.0,262.1 1431.9,260.7 1432.8,297.2" fill="none" stroke="#33a02c" stroke-width="3.3" stroke-linejoin="round" stroke-linecap="butt"/><polyline points="1433.7,175.0 1434.6,292.9 1435.5,108.8 1436.4,325.2 1437.3,200.8 1438.2,407.1 1439.1,141.8 1439.9,595.1 1440.8,253.9 1441.7,379.2 1442.6,123.6 1443.5,369.1 1444.4,238.3 1445.3,353.8 1446.2,168.0 1447.1,248.9 1448.0,190.0 1448.9,323.6 1449.8,142.1 1450.7,281.7 1451.6,184.5 1452.5,185.9 1453.4,225.6 1454.2,417.5 1455.1,136.6 1456.0,324.3 1456.9,359.8 1457.8,231.0 1458.7,197.0 1459.6,412.7 1460.5,238.7 1461.4,357.7 1462.3,194.5 1463.2,95.5 1464.1,200.4 1465.0,340.8 1465.9,187.0 1466.8,135.2 1467.7,176.7 1468.6,139.4 1469.4,349.0 1470.3,311.4 1471.2,203.7 1472.1,193.3 1473.0,259.7 1473.9,356.0 1474.8,243.6 1475.7,414.0 1476.6,149.7 1477.5,189.4 1478.4,242.3 1479.3,300.3 1480.2,196.0 1481.1,383.1 1482.0,187.4 1482.9,271.1 1483.7,109.3 1484.6,269.7 1485.5,146.6 1486.4,268.2 1487.3,138.2 1488.2,248.8 1489.1,177.2 1490.0,315.5 1490.9,241.2 1491.8,390.2 1492.7,212.3 1493.6,254.9 1494.5,269.7 1495.4,355.3 1496.3,255.7 1497.2,333.8 1498.1,222.2 1498.9,351.9 1499.8,224.0 1500.7,273.7 1501.6,219.5 1502.5,194.1 1503.4,280.5 1504.3,275.6 1505.2,290.2 1506.1,285.5 1507.0,198.1 1507.9,271.1 1508.8,288.1 1509.7,372.0 1510.6,166.9 1511.5,314.3 1512.4,249.5 1513.2,303.0 1514.1,217.0 1515.0,187.5 1515.9,199.2 1516.8,278.4 1517.7,297.5 1518.6,260.3 1519.5,193.7 1520.4,152.1 1521.3,268.2 1522.2,236.3 1523.1,183.0 1524.0,279.8 1524.9,187.5 1525.8,322.4 1526.7,128.0 1527.6,205.6 1528.4,163.6 1529.3,329.2 1530.2,150.2 1531.1,125.2 1532.0,150.4 1532.9,248.1 1533.8,190.3 1534.7,268.2 1535.6,171.0 1536.5,152.6 1537.4,185.0 1538.3,311.0 1539.2,199.7 1540.1,184.6 1541.0,246.6 1541.9,415.6 1542.7,195.8 1543.6,335.9 1544.5,164.0 1545.4,292.1 1546.3,336.3 1547.2,323.3 1548.1,226.6 1549.0,296.1 1549.9,334.7 1550.8,302.8 1551.7,203.8 1552.6,157.7 1553.5,168.4 1554.4,148.9 1555.3,273.7 1556.2,259.1 1557.1,168.0 1557.9,280.0 1558.8,249.8 1559.7,332.8 1560.6,342.8 1561.5,252.8 1562.4,372.8 1563.3,334.8 1564.2,247.7 1565.1,325.0 1566.0,192.8 1566.9,334.7 1567.8,229.7 1568.7,227.7 1569.6,210.0 1570.5,275.3 1571.4,261.0 1572.2,248.7 1573.1,241.3 1574.0,279.9 1574.9,299.1 1575.8,220.3 1576.7,264.4 1577.6,314.3 1578.5,354.9 1579.4,319.6 1580.3,291.9 1581.2,287.3 1582.1,229.8 1583.0,293.5 1583.9,273.3 1584.8,222.7 1585.7,191.3 1586.6,231.6 1587.4,218.0 1588.3,269.8 1589.2,216.1 1590.1,205.2 1591.0,221.8 1591.9,271.3 1592.8,242.5 1593.7,210.3 1594.6,337.9 1595.5,305.7 1596.4,220.3 1597.3,342.9 1598.2,321.1 1599.1,372.3 1600.0,341.2 1600.9,229.0 1601.7,302.2 1602.6,322.2 1603.5,216.3 1604.4,332.4 1605.3,246.9 1606.2,311.6 1607.1,234.7 1608.0,333.2 1608.9,221.5 1609.8,311.0 1610.7,246.0 1611.6,328.4 1612.5,261.4 1613.4,246.1 1614.3,269.6 1615.2,330.0 1616.1,297.9 1616.9,243.2 1617.8,219.5 1618.7,314.1 1619.6,234.9 1620.5,309.6 1621.4,196.2 1622.3,247.4 1623.2,218.7 1624.1,354.9 1625.0,188.6 1625.9,314.7 1626.8,238.5 1627.7,254.4 1628.6,249.4 1629.5,249.6 1630.4,318.1 1631.2,259.8 1632.1,274.0 1633.0,295.7 1633.9,295.9 1634.8,247.7 1635.7,248.0 1636.6,295.1 1637.5,254.3 1638.4,280.1 1639.3,269.5 1640.2,292.7 1641.1,243.4 1642.0,227.7 1642.9,254.8 1643.8,292.3 1644.7,336.3 1645.5,295.6 1646.4,296.1 1647.3,312.8 1648.2,333.5 1649.1,261.1 1650.0,221.1 1650.9,284.6 1651.8,278.5 1652.7,209.3 1653.6,288.8 1654.5,173.5 1655.4,233.7 1656.3,274.6 1657.2,235.9 1658.1,214.7 1659.0,352.2 1659.9,337.7 1660.7,233.5 1661.6,211.5 1662.5,370.9 1663.4,354.2 1664.3,275.5 1665.2,347.3 1666.1,257.5 1667.0,389.4 1667.9,243.0 1668.8,342.6 1669.7,173.5 1670.6,316.4 1671.5,328.4 1672.4,290.2 1673.3,269.2 1674.2,195.7 1675.0,257.8 1675.9,353.0 1676.8,254.6 1677.7,220.3 1678.6,267.7 1679.5,319.5 1680.4,292.9 1681.3,255.6 1682.2,261.9 1683.1,378.3 1684.0,265.1 1684.9,338.3 1685.8,190.9 1686.7,293.2 1687.6,328.4 1688.5,315.4 1689.4,188.1 1690.2,156.1 1691.1,241.6 1692.0,383.1 1692.9,253.3 1693.8,310.9 1694.7,200.8 1695.6,249.8 1696.5,277.7 1697.4,299.2 1698.3,279.7 1699.2,350.8 1700.1,435.4 1701.0,383.2 1701.9,290.5 1702.8,321.5 1703.7,229.8 1704.5,337.1 1705.4,270.8 1706.3,180.6 1707.2,134.7 1708.1,296.5 1709.0,315.7 1709.9,213.0 1710.8,172.7 1711.7,293.1 1712.6,257.8 1713.5,249.0 1714.4,220.8 1715.3,211.5 1716.2,227.4 1717.1,353.0 1718.0,260.0 1718.9,303.5 1719.7,220.7 1720.6,338.3 1721.5,266.1 1722.4,383.6 1723.3,187.0 1724.2,306.5 1725.1,229.1 1726.0,375.2 1726.9,217.9 1727.8,197.3 1728.7,271.5 1729.6,271.3 1730.5,256.7 1731.4,262.3 1732.3,302.9 1733.2,311.4 1734.0,208.4 1734.9,349.0 1735.8,323.2 1736.7,317.0 1737.6,150.5 1738.5,387.0 1739.4,245.0 1740.3,304.5 1741.2,258.6 1742.1,242.9 1743.0,291.9 1743.9,281.5 1744.8,268.8 1745.7,306.9 1746.6,336.3 1747.5,264.4 1748.4,240.4 1749.2,277.7 1750.1,225.5 1751.0,353.4 1751.9,160.5 1752.8,311.3 1753.7,206.4 1754.6,304.2 1755.5,318.9 1756.4,273.7 1757.3,272.3 1758.2,162.4 1759.1,318.1 1760.0,239.2 1760.9,244.1 1761.8,155.6 1762.7,190.8 1763.5,362.0 1764.4,175.9 1765.3,325.7 1766.2,145.5 1767.1,278.1 1768.0,244.4 1768.9,323.8 1769.8,366.4 1770.7,273.4 1771.6,267.7 1772.5,395.3 1773.4,191.0 1774.3,122.0 1775.2,216.4 1776.1,254.5 1777.0,320.5 1777.9,320.6 1778.7,240.7 1779.6,203.6 1780.5,366.4 1781.4,353.2 1782.3,249.9 1783.2,224.2 1784.1,227.0 1785.0,429.0 1785.9,229.7 1786.8,372.0 1787.7,109.3 1788.6,444.1 1789.5,163.5 1790.4,314.7 1791.3,129.9 1792.2,358.5 1793.0,183.7 1793.9,295.7 1794.8,222.4 1795.7,172.7 1796.6,228.8 1797.5,294.3 1798.4,342.7 1799.3,179.1 1800.2,258.9 1801.1,345.3 1802.0,430.6 1802.9,318.8 1803.8,188.6 1804.7,317.7 1805.6,291.2 1806.5,254.1 1807.4,147.8 1808.2,309.1 1809.1,159.8 1810.0,407.2 1810.9,327.4 1811.8,315.9 1812.7,87.9 1813.6,380.7 1814.5,181.0 1815.4,313.1 1816.3,131.5 1817.2,391.0 1818.1,250.2 1819.0,456.5 1819.9,183.8 1820.8,335.9 1821.7,311.8 1822.5,295.3 1823.4,241.7 1824.3,295.1 1825.2,262.3" fill="none" stroke="#1f78b4" stroke-width="3.3" stroke-linejoin="round" stroke-linecap="butt"/><line x1="1060.4" y1="46.5" x2="1134.9" y2="46.5" stroke="#33a02c" stroke-width="3.2"/><line x1="1060.4" y1="88.3" x2="1134.9" y2="88.3" stroke="#1f78b4" stroke-width="3.2"/><text x="1144.0" y="58.0" font-size="33.5" font-weight="bold" text-anchor="start" >The 150th cutting</text><text x="1144.0" y="100.0" font-size="33.5" font-weight="bold" text-anchor="start" >The 300th cutting</text><text x="1099.0" y="134.1" font-size="33.3" font-weight="bold" text-anchor="start" >(0.36g)</text><line x1="1199.7" y1="126.0" x2="1229.4" y2="140.7" stroke="#000" stroke-width="3.3"/><polygon points="1249.1,150.5 1225.0,145.1 1230.2,134.6" fill="#000"/><text x="1547.7" y="56.7" font-size="33.3" font-weight="bold" text-anchor="start" >(0.57g)</text><line x1="1646.8" y1="55.8" x2="1677.6" y2="74.6" stroke="#000" stroke-width="3.3"/><polygon points="1696.4,86.1 1672.8,78.6 1679.0,68.6" fill="#000"/><text x="1103.5" y="462.8" font-size="33.3" font-weight="bold" text-anchor="start" >(-0.41g)</text><line x1="1208.6" y1="439.4" x2="1231.7" y2="414.5" stroke="#000" stroke-width="3.3"/><polygon points="1246.7,398.4 1234.7,420.0 1226.0,412.0" fill="#000"/><text x="1495.2" y="637.9" font-size="33.3" font-weight="bold" text-anchor="start" >(-1.05g)</text><line x1="1613.4" y1="623.1" x2="1644.3" y2="605.4" stroke="#000" stroke-width="3.3"/><polygon points="1663.4,594.5 1645.5,611.5 1639.6,601.3" fill="#000"/><text x="1431.7" y="745.5" font-size="36.7" font-weight="bold" text-anchor="middle" >Number of sampling points</text><text transform="translate(961.8,336.5) rotate(-90) scale(0.9625,1)" font-size="36.7" font-weight="bold" text-anchor="middle">z direction vibration (g)</text><text x="1380.7" y="816.8" font-size="48" font-weight="normal" text-anchor="middle" >(f)</text></g>
<g id="chart-g"><line x1="570.2" y1="1165.6" x2="967.3" y2="1165.6" stroke="#ff0000" stroke-width="3.1" stroke-dasharray="17.25 15.0"/><line x1="959.8" y1="995.8" x2="1358.2" y2="995.8" stroke="#ff0000" stroke-width="3.1" stroke-dasharray="17.25 15.0"/><rect x="567.70" y="1486.70" width="4.44" height="8.00" fill="#000"/><rect x="567.70" y="858.40" width="4.44" height="8.00" fill="#000"/><rect x="1353.76" y="1486.70" width="4.44" height="8.00" fill="#000"/><rect x="1353.76" y="858.40" width="4.44" height="8.00" fill="#000"/><g stroke="#000" stroke-width="4.5" fill="none"><line x1="572.1" y1="1494.7" x2="572.1" y2="1486.7" /><line x1="572.1" y1="858.4" x2="572.1" y2="866.4" /><line x1="767.5" y1="1494.7" x2="767.5" y2="1486.7" /><line x1="767.5" y1="858.4" x2="767.5" y2="866.4" /><line x1="963.0" y1="1494.7" x2="963.0" y2="1486.7" /><line x1="963.0" y1="858.4" x2="963.0" y2="866.4" /><line x1="1158.4" y1="1494.7" x2="1158.4" y2="1486.7" /><line x1="1158.4" y1="858.4" x2="1158.4" y2="866.4" /><line x1="1353.8" y1="1494.7" x2="1353.8" y2="1486.7" /><line x1="1353.8" y1="858.4" x2="1353.8" y2="866.4" /><line x1="669.8" y1="1494.7" x2="669.8" y2="1490.4" /><line x1="669.8" y1="858.4" x2="669.8" y2="862.6999999999999" /><line x1="865.2" y1="1494.7" x2="865.2" y2="1490.4" /><line x1="865.2" y1="858.4" x2="865.2" y2="862.6999999999999" /><line x1="1060.7" y1="1494.7" x2="1060.7" y2="1490.4" /><line x1="1060.7" y1="858.4" x2="1060.7" y2="862.6999999999999" /><line x1="1256.1" y1="1494.7" x2="1256.1" y2="1490.4" /><line x1="1256.1" y1="858.4" x2="1256.1" y2="862.6999999999999" /><line x1="567.7" y1="1353.3" x2="575.7" y2="1353.3" /><line x1="1358.2" y1="1353.3" x2="1350.2" y2="1353.3" /><line x1="567.7" y1="1211.9" x2="575.7" y2="1211.9" /><line x1="1358.2" y1="1211.9" x2="1350.2" y2="1211.9" /><line x1="567.7" y1="1070.5" x2="575.7" y2="1070.5" /><line x1="1358.2" y1="1070.5" x2="1350.2" y2="1070.5" /><line x1="567.7" y1="929.1" x2="575.7" y2="929.1" /><line x1="1358.2" y1="929.1" x2="1350.2" y2="929.1" /><rect x="567.7" y="858.4" width="790.5" height="636.3"/></g><text transform="translate(572.1,1530.0) scale(0.952,1)" font-size="34.33500000000001" font-weight="bold" text-anchor="middle" >0</text><text transform="translate(767.5,1530.0) scale(0.952,1)" font-size="34.33500000000001" font-weight="bold" text-anchor="middle" >220</text><text transform="translate(963.0,1530.0) scale(0.952,1)" font-size="34.33500000000001" font-weight="bold" text-anchor="middle" >440</text><text transform="translate(1158.4,1530.0) scale(0.952,1)" font-size="34.33500000000001" font-weight="bold" text-anchor="middle" >660</text><text transform="translate(1353.8,1530.0) scale(0.952,1)" font-size="34.33500000000001" font-weight="bold" text-anchor="middle" >880</text><text transform="translate(559.3,1505.3) scale(0.952,1)" font-size="34.33500000000001" font-weight="bold" text-anchor="end" >0.0</text><text transform="translate(559.3,1363.9) scale(0.952,1)" font-size="34.33500000000001" font-weight="bold" text-anchor="end" >0.1</text><text transform="translate(559.3,1222.5) scale(0.952,1)" font-size="34.33500000000001" font-weight="bold" text-anchor="end" >0.2</text><text transform="translate(559.3,1081.1) scale(0.952,1)" font-size="34.33500000000001" font-weight="bold" text-anchor="end" >0.3</text><text transform="translate(559.3,939.7) scale(0.952,1)" font-size="34.33500000000001" font-weight="bold" text-anchor="end" >0.4</text><polyline points="573.6,1494.7 576.6,1173.8 577.5,1195.1 578.4,1223.5 579.2,1166.6 580.1,1214.7 581.0,1259.0 581.9,1218.2 582.8,1209.0 583.7,1237.4 584.6,1219.6 585.5,1227.8 586.4,1264.9 587.2,1236.4 588.1,1224.1 589.0,1217.4 589.9,1227.5 590.8,1246.7 591.7,1244.6 592.6,1245.7 593.5,1234.3 594.3,1281.5 595.2,1263.0 596.1,1264.1 597.0,1273.4 597.9,1283.0 598.8,1320.4 599.7,1300.4 600.6,1273.9 601.5,1304.3 602.3,1315.6 603.2,1283.9 604.1,1295.2 605.0,1305.4 605.9,1307.7 606.8,1288.2 607.7,1309.5 608.6,1313.2 609.4,1319.5 610.3,1327.5 611.2,1311.7 612.1,1335.4 613.0,1327.3 613.9,1316.9 614.8,1309.0 615.7,1344.9 616.6,1345.9 617.4,1372.7 618.3,1329.1 619.2,1350.6 620.1,1335.0 621.0,1360.8 621.9,1336.9 622.8,1329.1 623.7,1349.8 624.5,1338.4 625.4,1364.0 626.3,1330.7 627.2,1331.4 628.1,1352.1 629.0,1314.8 629.9,1329.9 630.8,1329.0 631.7,1371.1 632.5,1358.2 633.4,1335.8 634.3,1352.5 635.2,1360.8 636.1,1345.8 637.0,1356.4 637.9,1350.1 638.8,1338.9 639.6,1360.8 640.5,1355.4 641.4,1353.9 642.3,1360.8 643.2,1357.0 644.1,1352.6 645.0,1354.9 645.9,1352.8 646.8,1354.5 647.6,1350.2 648.5,1347.8 649.4,1343.0 650.3,1352.7 651.2,1362.4 652.1,1354.7 653.0,1346.5 653.9,1358.3 654.7,1365.2 655.6,1344.1 656.5,1337.8 657.4,1354.4 658.3,1374.3 659.2,1357.9 660.1,1351.6 661.0,1362.9 661.8,1366.2 662.7,1362.5 663.6,1354.5 664.5,1372.7 665.4,1351.9 666.3,1344.1 667.2,1320.4 668.1,1353.7 669.0,1341.1 669.8,1362.4 670.7,1338.3 671.6,1338.5 672.5,1330.4 673.4,1357.6 674.3,1340.2 675.2,1346.5 676.1,1371.1 676.9,1347.4 677.8,1350.5 678.7,1338.9 679.6,1360.8 680.5,1348.1 681.4,1338.6 682.3,1345.2 683.2,1364.0 684.1,1353.5 684.9,1346.5 685.8,1363.2 686.7,1337.1 687.6,1334.6 688.5,1330.1 689.4,1314.8 690.3,1329.9 691.2,1323.6 692.0,1306.9 692.9,1318.2 693.8,1314.5 694.7,1289.2 695.6,1307.2 696.5,1343.0 697.4,1312.8 698.3,1317.1 699.2,1316.4 700.0,1321.1 700.9,1337.0 701.8,1303.4 702.7,1316.1 703.6,1315.4 704.5,1296.6 705.4,1316.4 706.3,1310.0 707.1,1323.4 708.0,1306.9 708.9,1341.5 709.8,1330.6 710.7,1317.9 711.6,1309.3 712.5,1319.2 713.4,1343.0 714.3,1325.9 715.1,1312.5 716.0,1325.1 716.9,1329.9 717.8,1325.7 718.7,1313.2 719.6,1330.9 720.5,1344.2 721.4,1329.0 722.2,1307.7 723.1,1339.4 724.0,1311.1 724.9,1323.8 725.8,1300.6 726.7,1325.8 727.6,1333.1 728.5,1315.6 729.4,1306.9 730.2,1322.8 731.1,1316.0 732.0,1263.8 732.9,1301.8 733.8,1313.6 734.7,1324.1 735.6,1324.3 736.5,1346.8 737.3,1338.7 738.2,1314.8 739.1,1331.9 740.0,1346.5 740.9,1337.5 741.8,1339.3 742.7,1333.0 743.6,1316.4 744.5,1337.8 745.3,1357.6 746.2,1337.2 747.1,1332.3 748.0,1340.0 748.9,1354.1 749.8,1372.7 750.7,1330.4 751.6,1351.5 752.4,1356.0 753.3,1339.9 754.2,1322.4 755.1,1333.6 756.0,1308.8 756.9,1344.2 757.8,1369.5 758.7,1339.8 759.6,1338.6 760.4,1354.1 761.3,1375.1 762.2,1358.6 763.1,1352.2 764.0,1344.9 764.9,1354.6 765.8,1385.4 766.7,1384.6 767.5,1372.0 768.4,1350.5 769.3,1350.5 770.2,1367.9 771.1,1356.4 772.0,1366.6 772.9,1354.5 773.8,1369.5 774.7,1349.7 775.5,1361.1 776.4,1348.9 777.3,1356.4 778.2,1347.1 779.1,1367.9 780.0,1349.2 780.9,1329.1 781.8,1350.0 782.6,1342.1 783.5,1345.1 784.4,1362.4 785.3,1322.0 786.2,1329.3 787.1,1346.2 788.0,1337.4 788.9,1302.2 789.8,1352.9 790.6,1329.9 791.5,1336.7 792.4,1329.3 793.3,1325.9 794.2,1352.9 795.1,1332.2 796.0,1328.6 796.9,1327.8 797.7,1358.4 798.6,1306.6 799.5,1340.2 800.4,1350.5 801.3,1312.7 802.2,1327.6 803.1,1303.4 804.0,1319.1 804.9,1333.9 805.7,1289.5 806.6,1318.3 807.5,1315.9 808.4,1307.7 809.3,1333.9 810.2,1320.2 811.1,1315.0 812.0,1302.5 812.8,1314.7 813.7,1332.3 814.6,1311.7 815.5,1300.6 816.4,1315.6 817.3,1325.3 818.2,1323.0 819.1,1306.9 819.9,1338.6 820.8,1312.0 821.7,1333.4 822.6,1319.0 823.5,1339.4 824.4,1310.6 825.3,1303.4 826.2,1325.8 827.1,1324.3 827.9,1319.4 828.8,1310.9 829.7,1335.4 830.6,1344.3 831.5,1371.1 832.4,1331.2 833.3,1339.4 834.2,1325.1 835.0,1363.2 835.9,1367.4 836.8,1342.0 837.7,1326.7 838.6,1376.6 839.5,1335.9 840.4,1351.6 841.3,1336.0 842.2,1340.9 843.0,1332.3 843.9,1350.5 844.8,1335.0 845.7,1346.8 846.6,1327.5 847.5,1362.4 848.4,1343.7 849.3,1350.1 850.1,1345.4 851.0,1340.2 851.9,1353.7 852.8,1341.9 853.7,1344.3 854.6,1349.5 855.5,1352.1 856.4,1344.3 857.3,1329.1 858.1,1327.6 859.0,1336.6 859.9,1335.4 860.8,1326.7 861.7,1307.7 862.6,1337.0 863.5,1334.8 864.4,1328.0 865.2,1325.9 866.1,1342.3 867.0,1345.8 867.9,1352.9 868.8,1330.6 869.7,1327.5 870.6,1338.8 871.5,1341.8 872.4,1324.5 873.2,1335.1 874.1,1316.1 875.0,1332.2 875.9,1333.9 876.8,1326.1 877.7,1317.7 878.6,1338.6 879.5,1317.9 880.3,1317.4 881.2,1327.0 882.1,1299.3 883.0,1325.3 883.9,1356.8 884.8,1341.6 885.7,1316.7 886.6,1327.5 887.5,1306.9 888.3,1351.3 889.2,1327.6 890.1,1336.6 891.0,1310.9 891.9,1360.0 892.8,1341.3 893.7,1346.7 894.6,1305.0 895.4,1354.5 896.3,1328.8 897.2,1348.8 898.1,1349.1 899.0,1335.4 899.9,1362.4 900.8,1358.7 901.7,1358.5 902.6,1346.0 903.4,1348.0 904.3,1334.6 905.2,1365.2 906.1,1338.5 907.0,1341.5 907.9,1330.7 908.8,1347.3 909.7,1334.0 910.5,1330.8 911.4,1317.2 912.3,1344.2 913.2,1318.9 914.1,1309.5 915.0,1306.4 915.9,1333.9 916.8,1313.3 917.7,1283.9 918.5,1311.0 919.4,1312.7 920.3,1318.9 921.2,1310.9 922.1,1327.5 923.0,1322.2 923.9,1319.9 924.8,1259.4 925.6,1281.1 926.5,1341.0 927.4,1319.5 928.3,1303.7 929.2,1310.9 930.1,1325.1 931.0,1288.8 931.9,1253.8 932.8,1301.3 933.6,1291.9 934.5,1268.9 935.4,1301.4 936.3,1250.7 937.2,1213.1 938.1,1244.4 939.0,1280.8 939.9,1257.7 940.7,1229.4 941.6,1205.5 942.5,1213.5 943.4,1273.6 944.3,1184.6 945.2,1245.7 946.1,1268.1 947.0,1224.5 947.9,1254.7 948.7,1240.0 949.6,1241.0 950.5,1204.7 951.4,1259.4 952.3,1237.8 953.2,1166.2 954.1,1203.3 955.0,1230.8 955.8,1207.7 956.7,1203.9 957.6,1232.4 958.5,1194.7 959.4,1214.2 963.1,1494.7" fill="none" stroke="#33a02c" stroke-width="3.3" stroke-linejoin="round" stroke-linecap="butt"/><polyline points="962.5,1448.0 967.4,1044.4 968.3,1106.9 969.2,1133.5 970.1,1156.9 970.9,1099.1 971.8,1054.2 972.7,1103.4 973.6,1203.4 974.5,1136.8 975.4,1137.0 976.3,1202.7 977.2,1241.7 978.0,1210.3 978.9,1108.3 979.8,1107.8 980.7,1154.5 981.6,1190.3 982.5,1249.3 983.4,1227.6 984.3,1243.2 985.2,1221.1 986.0,1274.7 986.9,1249.3 987.8,1225.6 988.7,1270.9 989.6,1262.5 990.5,1246.1 991.4,1265.0 992.3,1300.1 993.1,1256.9 994.0,1281.3 994.9,1224.0 995.8,1254.9 996.7,1289.0 997.6,1279.2 998.5,1259.6 999.4,1266.8 1000.3,1265.9 1001.1,1290.2 1002.0,1272.8 1002.9,1280.7 1003.8,1291.5 1004.7,1274.3 1005.6,1258.1 1006.5,1279.1 1007.4,1312.7 1008.2,1271.5 1009.1,1292.7 1010.0,1304.8 1010.9,1315.9 1011.8,1283.6 1012.7,1268.0 1013.6,1282.1 1014.5,1279.2 1015.4,1283.7 1016.2,1297.1 1017.1,1298.4 1018.0,1325.7 1018.9,1306.4 1019.8,1302.3 1020.7,1301.4 1021.6,1285.3 1022.5,1239.8 1023.3,1282.0 1024.2,1322.6 1025.1,1257.6 1026.0,1301.3 1026.9,1247.0 1027.8,1266.3 1028.7,1282.0 1029.6,1266.5 1030.5,1288.5 1031.3,1283.0 1032.2,1236.7 1033.1,1294.5 1034.0,1271.4 1034.9,1238.0 1035.8,1258.0 1036.7,1258.2 1037.6,1263.6 1038.4,1214.5 1039.3,1259.0 1040.2,1235.8 1041.1,1254.0 1042.0,1221.7 1042.9,1255.4 1043.8,1208.9 1044.7,1291.3 1045.6,1245.2 1046.4,1278.5 1047.3,1205.8 1048.2,1267.3 1049.1,1301.6 1050.0,1248.6 1050.9,1239.8 1051.8,1279.1 1052.7,1250.9 1053.5,1258.1 1054.4,1289.0 1055.3,1261.6 1056.2,1248.5 1057.1,1277.2 1058.0,1276.0 1058.9,1281.9 1059.8,1282.9 1060.7,1254.1 1061.5,1304.0 1062.4,1288.5 1063.3,1274.6 1064.2,1245.4 1065.1,1319.9 1066.0,1270.8 1066.9,1273.6 1067.8,1253.3 1068.6,1287.9 1069.5,1316.7 1070.4,1257.3 1071.3,1278.1 1072.2,1235.4 1073.1,1264.8 1074.0,1287.4 1074.9,1278.2 1075.8,1264.0 1076.6,1255.7 1077.5,1262.7 1078.4,1253.6 1079.3,1271.9 1080.2,1276.3 1081.1,1239.2 1082.0,1259.9 1082.9,1222.7 1083.7,1232.9 1084.6,1254.1 1085.5,1264.8 1086.4,1296.1 1087.3,1260.1 1088.2,1265.7 1089.1,1243.6 1090.0,1208.9 1090.9,1289.9 1091.7,1294.3 1092.6,1273.2 1093.5,1285.6 1094.4,1264.4 1095.3,1316.7 1096.2,1282.5 1097.1,1270.8 1098.0,1298.6 1098.8,1257.3 1099.7,1270.4 1100.6,1300.9 1101.5,1294.2 1102.4,1285.7 1103.3,1273.1 1104.2,1287.5 1105.1,1287.1 1106.0,1307.8 1106.8,1322.6 1107.7,1227.2 1108.6,1274.8 1109.5,1278.8 1110.4,1244.0 1111.3,1292.0 1112.2,1313.5 1113.1,1273.8 1113.9,1285.2 1114.8,1226.8 1115.7,1251.6 1116.6,1282.6 1117.5,1254.0 1118.4,1273.3 1119.3,1283.7 1120.2,1284.7 1121.0,1267.1 1121.9,1305.6 1122.8,1291.0 1123.7,1271.9 1124.6,1270.0 1125.5,1281.1 1126.4,1289.7 1127.3,1247.0 1128.2,1298.5 1129.0,1315.9 1129.9,1288.4 1130.8,1227.2 1131.7,1294.2 1132.6,1321.5 1133.5,1306.6 1134.4,1303.6 1135.3,1279.5 1136.1,1299.3 1137.0,1290.6 1137.9,1301.2 1138.8,1311.2 1139.7,1293.8 1140.6,1227.2 1141.5,1298.0 1142.4,1274.5 1143.3,1319.9 1144.1,1307.6 1145.0,1263.6 1145.9,1288.0 1146.8,1296.4 1147.7,1295.1 1148.6,1297.4 1149.5,1273.1 1150.4,1305.6 1151.2,1285.8 1152.1,1286.2 1153.0,1235.4 1153.9,1252.4 1154.8,1278.7 1155.7,1275.6 1156.6,1262.5 1157.5,1239.8 1158.4,1274.7 1159.2,1275.0 1160.1,1260.0 1161.0,1149.5 1161.9,1149.0 1162.8,1278.7 1163.7,1161.4 1164.6,1234.3 1165.5,1182.6 1166.3,1166.0 1167.2,1107.2 1168.1,1231.9 1169.0,1214.5 1169.9,1210.5 1170.8,1211.6 1171.7,1239.8 1172.6,1244.9 1173.5,1242.7 1174.3,1264.9 1175.2,1246.2 1176.1,1301.6 1177.0,1289.4 1177.9,1301.1 1178.8,1284.2 1179.7,1316.7 1180.6,1302.1 1181.4,1266.1 1182.3,1283.7 1183.2,1261.7 1184.1,1224.0 1185.0,1298.5 1185.9,1224.9 1186.8,1227.5 1187.7,1196.2 1188.6,1219.9 1189.4,1247.8 1190.3,1257.2 1191.2,1225.6 1192.1,1231.4 1193.0,1281.8 1193.9,1242.1 1194.8,1234.1 1195.7,1214.0 1196.5,1165.0 1197.4,1126.5 1198.3,1196.3 1199.2,1189.8 1200.1,1263.6 1201.0,1204.0 1201.9,1229.7 1202.8,1172.0 1203.7,1248.6 1204.5,1296.9 1205.4,1233.7 1206.3,1210.6 1207.2,1237.0 1208.1,1237.4 1209.0,1208.9 1209.9,1243.7 1210.8,1235.7 1211.6,1287.4 1212.5,1282.9 1213.4,1262.1 1214.3,1279.5 1215.2,1265.2 1216.1,1273.6 1217.0,1274.2 1217.9,1309.6 1218.8,1261.2 1219.6,1290.9 1220.5,1319.9 1221.4,1276.4 1222.3,1282.5 1223.2,1270.7 1224.1,1276.1 1225.0,1255.7 1225.9,1296.9 1226.7,1268.6 1227.6,1250.8 1228.5,1282.4 1229.4,1220.0 1230.3,1280.2 1231.2,1314.3 1232.1,1260.5 1233.0,1232.7 1233.9,1270.3 1234.7,1216.1 1235.6,1262.0 1236.5,1219.9 1237.4,1250.5 1238.3,1200.7 1239.2,1235.7 1240.1,1245.1 1241.0,1288.6 1241.8,1262.4 1242.7,1272.3 1243.6,1277.6 1244.5,1273.8 1245.4,1270.1 1246.3,1260.0 1247.2,1289.8 1248.1,1300.1 1249.0,1234.0 1249.8,1287.9 1250.7,1275.6 1251.6,1293.1 1252.5,1278.4 1253.4,1272.3 1254.3,1311.5 1255.2,1269.9 1256.1,1260.0 1256.9,1281.7 1257.8,1262.6 1258.7,1211.6 1259.6,1246.0 1260.5,1249.7 1261.4,1229.4 1262.3,1298.5 1263.2,1220.1 1264.1,1239.1 1264.9,1187.8 1265.8,1252.8 1266.7,1262.7 1267.6,1282.6 1268.5,1229.4 1269.4,1209.6 1270.3,1246.8 1271.2,1222.6 1272.0,1184.4 1272.9,1263.6 1273.8,1262.9 1274.7,1253.5 1275.6,1267.5 1276.5,1264.3 1277.4,1255.7 1278.3,1291.3 1279.2,1265.8 1280.0,1245.3 1280.9,1272.3 1281.8,1213.2 1282.7,1249.6 1283.6,1239.1 1284.5,1277.1 1285.4,1265.5 1286.3,1228.7 1287.1,1247.3 1288.0,1297.7 1288.9,1277.1 1289.8,1283.5 1290.7,1245.2 1291.6,1252.4 1292.5,1252.7 1293.4,1231.6 1294.2,1288.2 1295.1,1246.6 1296.0,1229.0 1296.9,1228.0 1297.8,1266.9 1298.7,1210.6 1299.6,1192.0 1300.5,1225.7 1301.4,1282.6 1302.2,1204.8 1303.1,1206.7 1304.0,1272.5 1304.9,1253.1 1305.8,1183.6 1306.7,1273.1 1307.6,1277.3 1308.5,1301.6 1309.3,1255.8 1310.2,1250.6 1311.1,1242.7 1312.0,1278.5 1312.9,1288.2 1313.8,1254.8 1314.7,1264.9 1315.6,1275.7 1316.5,1268.9 1317.3,1247.0 1318.2,1249.5 1319.1,1251.9 1320.0,1284.2 1320.9,1259.1 1321.8,1264.9 1322.7,1243.5 1323.6,1225.6 1324.4,1263.5 1325.3,1233.8 1326.2,1276.0 1327.1,1230.6 1328.0,1217.6 1328.9,1248.2 1329.8,1268.4 1330.7,1240.0 1331.6,1250.2 1332.4,1236.7 1333.3,1221.7 1334.2,1208.8 1335.1,1163.5 1336.0,1174.0 1336.9,1099.4 1337.8,1169.8 1338.7,1136.8 1339.5,1149.1 1340.4,1123.0 1341.3,1100.6 1342.2,1110.8 1343.1,1140.0 1344.0,1149.4 1344.9,1094.0 1345.8,1118.8 1346.7,998.1 1352.7,1494.7" fill="none" stroke="#1f78b4" stroke-width="3.3" stroke-linejoin="round" stroke-linecap="butt"/><line x1="594.05" y1="920" x2="667.8499999999999" y2="920" stroke="#33a02c" stroke-width="3.2"/><line x1="594.05" y1="961.5" x2="667.8499999999999" y2="961.5" stroke="#1f78b4" stroke-width="3.2"/><text x="676.8" y="931.2" font-size="33.2" font-weight="bold" text-anchor="start" >The 150th cutting</text><text x="676.8" y="972.7" font-size="33.2" font-weight="bold" text-anchor="start" >The 300th cutting</text><text x="636.4" y="1103.1" font-size="33.3" font-weight="bold" text-anchor="start" >(0.23V)</text><line x1="740.5" y1="1116.8" x2="765.5" y2="1146.5" stroke="#000" stroke-width="3.3"/><polygon points="779.7,1163.3 759.7,1148.8 768.7,1141.1" fill="#000"/><text x="1078.0" y="940.0" font-size="33.3" font-weight="bold" text-anchor="start" >(0.35V)</text><line x1="1157.3" y1="950.4" x2="1182.6" y2="979.8" stroke="#000" stroke-width="3.3"/><polygon points="1196.9,996.5 1176.8,982.1 1185.7,974.5" fill="#000"/><text x="963.1" y="1584.0" font-size="36.37" font-weight="bold" text-anchor="middle" >Number of sampling points</text><text transform="translate(505.5,1174.9) rotate(-90) scale(0.989,1)" font-size="36.7" font-weight="bold" text-anchor="middle">Acoustic emission signal (V)</text><text x="925.2" y="1662.9" font-size="48" font-weight="normal" text-anchor="middle" >(g)</text></g>
</svg>
</body></html>
